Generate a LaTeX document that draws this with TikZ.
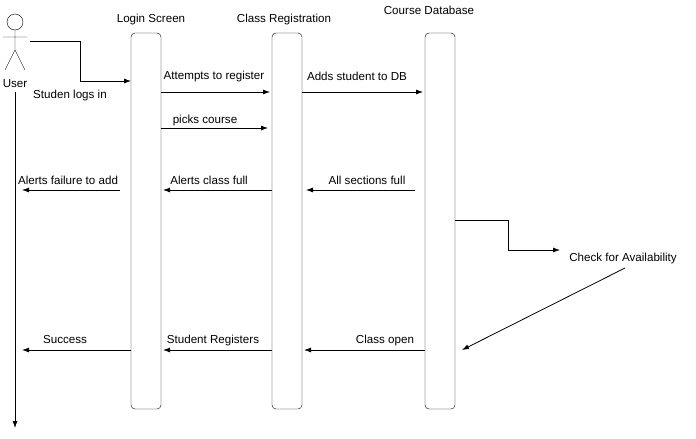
\documentclass[tikz,border=0pt]{standalone}
\usepackage{fontspec}
\setmainfont{Liberation Sans}
\usetikzlibrary{arrows.meta}
\begin{document}
\begin{tikzpicture}[x=1pt,y=-1pt,
  lbl/.style={font=\fontsize{11.6}{13}\selectfont, inner sep=0pt},
  life/.style={draw, rounded corners=4pt, minimum width=30pt, minimum height=376pt, inner sep=0pt},
  msg/.style={-{Latex[length=7pt,width=5pt]}, line width=0.8pt}]
\useasboundingbox (0,0) rectangle (696,439);
% actor
\node[draw,circle,minimum size=16pt,inner sep=0pt] (head) at (15,22) {};
\draw (15,30) -- (15,50) -- (5,70) (15,50) -- (25,70) (3,37) -- (27,37);
\coordinate (actR) at (30,41);
\node[lbl] (user) at (15,84) {User};
\coordinate (uTop) at (15,92);
\coordinate (uBot) at (15,428);
\draw[msg] (uTop) -- (uBot);
% lifelines
\node[life] (login) at (146,221) {};
\node[life] (reg) at (287,221) {};
\node[life] (db) at (440,221) {};
\node[lbl] (tLogin) at (151,20) {Login Screen};
\node[lbl] (tReg) at (284,20) {Class Registration};
\node[lbl] (tDb) at (429,10) {Course Database};
% messages
\draw[line width=0.8pt,-{Latex[length=7pt,width=5pt]}] (actR) -- (80,41) -- (80,81) -- (131,81);
\node[lbl] (m0) at (70,95) {Studen logs in};
\draw[msg] (161,92) -- (270,92);
\node[lbl] (m1) at (214,76) {Attempts to register};
\draw[msg] (302,92) -- (423,92);
\node[lbl] (m2) at (357,76) {Adds student to DB};
\draw[msg] (161,128) -- (268,128);
\node[lbl] (m3) at (205,120) {picks course};
\draw[msg] (120,190) -- (22,190);
\node[lbl] (m4) at (68,180) {Alerts failure to add};
\draw[msg] (272,190) -- (163,190);
\node[lbl] (m5) at (209,180) {Alerts class full};
\draw[msg] (415,190) -- (306,190);
\node[lbl] (m6) at (367,180) {All sections full};
\draw[msg] (455,220) -- (508,220) -- (508,250) -- (560,250);
\node[lbl] (chk) at (623,258) {Check for Availability};
\draw[msg] (625,268) -- (462,350);
\draw[msg] (425,350) -- (304,350);
\node[lbl] (m7) at (385,340) {Class open};
\draw[msg] (272,350) -- (163,350);
\node[lbl] (m8) at (213,340) {Student Registers};
\draw[msg] (131,350) -- (22,350);
\node[lbl] (m9) at (65,340) {Success};
\end{tikzpicture}
\end{document}
